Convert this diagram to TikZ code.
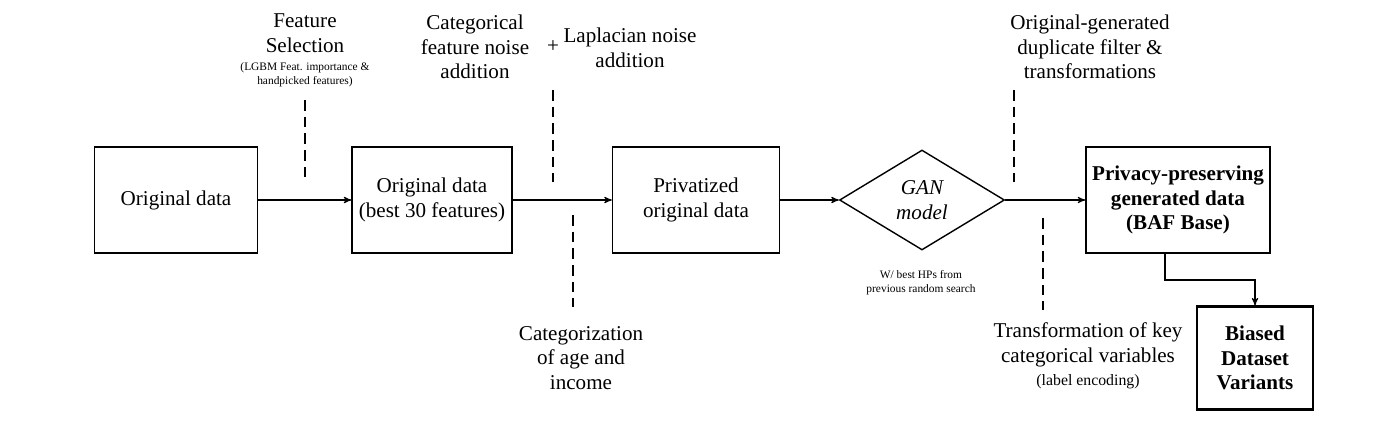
\documentclass[tikz,border=0pt]{standalone}
\usepackage{fontspec}
\setmainfont{Liberation Serif}
\usetikzlibrary{arrows,shapes.geometric}
\begin{document}
\begin{tikzpicture}[x=0.02cm,y=-0.02cm,>=stealth',
                    semithick]
  \tikzset{box/.style={draw,thick,align=center,font=\rmfamily\fontsize{12}{14}\selectfont},
           note/.style={align=center,font=\rmfamily\fontsize{12}{14}\selectfont},
           tiny/.style={align=center,font=\rmfamily\fontsize{6.5}{8}\selectfont},
           sep/.style={thick,dash pattern=on 6pt off 3.5pt}}
  \useasboundingbox (0,0) rectangle (1376,436);

  \node[box,minimum width=3.26cm,minimum height=2.12cm] (orig) at (176,200) {Original data};
  \node[box,minimum width=3.2cm,minimum height=2.12cm] (best) at (432,200) {Original data\\(best 30 features)};
  \node[box,minimum width=3.34cm,minimum height=2.12cm] (priv) at (696,200) {Privatized\\original data};
  \node[draw,thick,diamond,aspect=1.65,inner sep=1pt,minimum width=3.3cm,minimum height=2cm,
        align=center,font=\rmfamily\fontsize{12}{14}\selectfont\itshape] (gan) at (922,200) {GAN\\model};
  \node[box,very thick,font=\rmfamily\fontsize{12}{14}\selectfont\bfseries,minimum width=3.46cm,minimum height=2.12cm] (base) at (1178,200) {Privacy-preserving\\generated data\\(BAF Base)};
  \node[box,very thick,font=\rmfamily\fontsize{12}{14}\selectfont\bfseries,minimum width=2.32cm,minimum height=2.06cm] (bias) at (1255,358) {Biased\\Dataset\\Variants};

  \draw[->] (orig) -- (best);
  \draw[->] (best) -- (priv);
  \draw[->] (priv) -- (gan);
  \draw[->] (gan) -- (base);
  \coordinate (turn) at (1165,280);
  \draw[->] (base.south -| turn) -- (turn) -| (bias.north);

  % dashed separators
  \coordinate (s1a) at (305,100); \coordinate (s1b) at (305,182);
  \coordinate (s2a) at (553,90);  \coordinate (s2b) at (553,182);
  \coordinate (s3a) at (573,215); \coordinate (s3b) at (573,307);
  \coordinate (s4a) at (1014,90); \coordinate (s4b) at (1014,182);
  \coordinate (s5a) at (1043,218); \coordinate (s5b) at (1043,310);
  \draw[sep] (s1a) -- (s1b);
  \draw[sep] (s2a) -- (s2b);
  \draw[sep] (s3a) -- (s3b);
  \draw[sep] (s4a) -- (s4b);
  \draw[sep] (s5a) -- (s5b);

  \node[note] (fs) at (305,33) {Feature\\Selection};
  \node[tiny] (fsx) at (305,75) {(LGBM Feat. importance \&\\handpicked features)};
  \node[note] (cat) at (475,47) {Categorical\\feature noise\\addition};
  \node[note] (plus) at (553,47) {+};
  \node[note] (lap) at (630,48) {Laplacian noise\\addition};
  \node[note] (age) at (581,358) {Categorization\\of age and\\income};
  \node[note] (dup) at (1090,47) {Original-generated\\duplicate filter \&\\transformations};
  \node[tiny] (hps) at (921,283) {W/ best HPs from\\previous random search};
  \node[note] (key) at (1088,345) {Transformation of key\\categorical variables};
  \node[tiny,font=\rmfamily\fontsize{9}{10}\selectfont] (enc) at (1088,382) {(label encoding)};
\end{tikzpicture}
\end{document}
